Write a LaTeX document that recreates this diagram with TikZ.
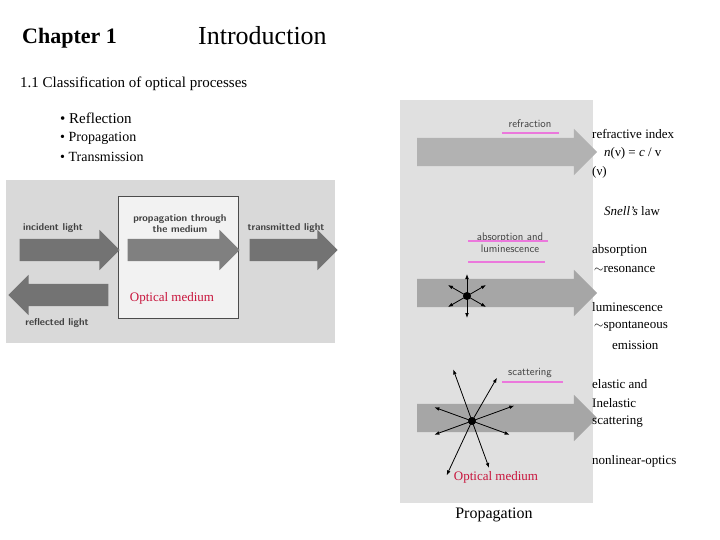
\documentclass[tikz,border=0pt]{standalone}
\usepackage{fontspec}
\setmainfont{Liberation Serif}
\usetikzlibrary{shapes.arrows,arrows.meta}
\definecolor{medred}{RGB}{200,20,60}
\definecolor{pinkline}{RGB}{235,120,220}
\tikzset{
  txt/.style={anchor=west,inner sep=0pt,font=\fontsize{13}{15}\selectfont},
  bigarrow/.style={single arrow,draw=none,minimum height=#1,inner xsep=0pt,inner ysep=11pt,single arrow head extend=9pt},
  labl/.style={font=\sffamily\bfseries\fontsize{10}{11}\selectfont,text=black!75,inner sep=1pt},
  burst/.style={-{Latex[length=5pt]},thick}
}
\begin{document}
\begin{tikzpicture}[x=1pt,y=-1pt]
  \useasboundingbox (0,0) rectangle (720,540);

  % Titles
  \node[txt,font=\bfseries\fontsize{22}{24}\selectfont] (chap) at (22,38) {Chapter 1};
  \node[txt,font=\fontsize{26}{28}\selectfont] (intro) at (198,36) {Introduction};
  \node[txt,font=\fontsize{15}{17}\selectfont] (sect) at (20,84) {1.1 Classification of optical processes};
  \node[txt,font=\fontsize{15}{17}\selectfont] (refl) at (60,118) {• Reflection};
  \node[txt,font=\fontsize{14}{16}\selectfont] (prop) at (60,138) {• Propagation};
  \node[txt,font=\fontsize{14}{16}\selectfont] (trans) at (60,157) {• Transmission};

  % Left picture
  \fill[black!15] (6,180) rectangle (335,343);
  \fill[black!5] (118,196) rectangle (238,318);
  \draw[black!70,thick] (118,196) rectangle (238,318);
  \node[bigarrow=100pt,fill=black!55] (inc) at (64,250) {};
  \node[bigarrow=100pt,fill=black!55,shape border rotate=180] (back) at (64,295) {};
  \node[bigarrow=112pt,fill=black!50] (thru) at (178,250) {};
  \node[bigarrow=88pt,fill=black!55] (out) at (288,250) {};
  \node[labl] (incl) at (53,228) {incident light};
  \node[labl] (refll) at (57,323) {reflected light};
  \node[labl] (transl) at (286,228) {transmitted light};
  \node[labl,align=center] (propl) at (180,224) {propagation through\\the medium};
  \node[font=\fontsize{13}{15}\selectfont,text=medred,inner sep=0pt] (med1) at (172,298) {Optical medium};

  % Right picture
  \fill[black!12] (400,100) rectangle (593,503);
  \node[bigarrow=180pt,fill=black!30,inner ysep=14pt] (refr) at (500,152) {};
  \node[bigarrow=180pt,fill=black!35,inner ysep=14pt] (absa) at (500,293) {};
  \node[bigarrow=180pt,fill=black!35,inner ysep=14pt] (scat) at (500,418) {};
  \node[labl,font=\sffamily\fontsize{11}{12}\selectfont] (refrl) at (530,124) {refraction};
  \draw[pinkline,line width=2pt] (502,133) -- (559,133);
  \node[labl,font=\sffamily\fontsize{11}{12}\selectfont,align=center] (absl) at (510,243) {absorption and\\luminescence};
  \draw[pinkline,line width=2pt] (468,241) -- (548,241);
  \draw[pinkline,line width=2pt] (468,262) -- (545,262);
  \node[labl,font=\sffamily\fontsize{11}{12}\selectfont] (scatl) at (530,373) {scattering};
  \draw[pinkline,line width=2pt] (502,382) -- (563,382);
  \coordinate (c1) at (467,296);
  \fill (c1) circle (4pt);
  \foreach \a in {30,90,150,210,270,330} \draw[burst] (c1) -- ++(\a:22);
  \coordinate (c2) at (472,421);
  \fill (c2) circle (4pt);
  \foreach \a/\l in {20/40,70/50,115/60,160/40,200/40,250/55,300/50,340/45} \draw[burst] (c2) -- ++(\a:\l);
  \node[font=\fontsize{13}{15}\selectfont,text=medred,inner sep=0pt] (med2) at (496,477) {Optical medium};
  \node[font=\fontsize{16}{18}\selectfont,inner sep=0pt] (propg) at (494,515) {Propagation};

  % Right texts
  \node[txt] (ri) at (592,134) {refractive index};
  \node[txt] (nn) at (604,153) {\textit{n}(ν) = \textit{c} / v};
  \node[txt] (nu) at (592,172) {(ν)};
  \node[txt] (snell) at (604,211) {\textit{Snell's} law};
  \node[txt] (abs) at (592,250) {absorption};
  \node[txt] (res) at (594,269) {$\sim$resonance};
  \node[txt] (lum) at (592,307) {luminescence};
  \node[txt] (spon) at (594,326) {$\sim$spontaneous};
  \node[txt] (emis) at (612,345) {emission};
  \node[txt] (ela) at (592,384) {elastic and};
  \node[txt] (inel) at (592,403) {Inelastic};
  \node[txt] (scatt) at (592,422) {scattering};
  \node[txt] (nlo) at (592,461) {nonlinear-optics};
\end{tikzpicture}
\end{document}
